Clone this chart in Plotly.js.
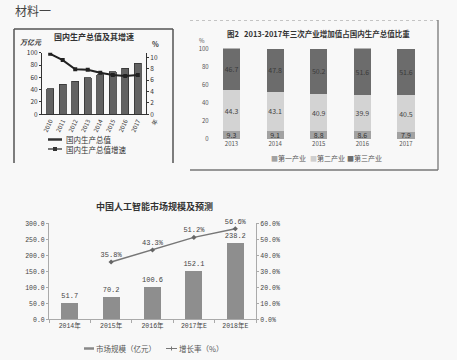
<!DOCTYPE html>
<html>
<head>
<meta charset="utf-8">
<script src="https://cdn.plot.ly/plotly-3.0.1.min.js"></script>
<style>html,body{margin:0;padding:0;background:#f8f8f8;}#chart{width:457px;height:360px;}</style>
</head>
<body>
<div id="chart"></div>
<script>
// ---- data ----
const gdpYears = ['2010','2011','2012','2013','2014','2015','2016','2017'];
const gdpValues = [41.3, 48.9, 54.0, 59.5, 64.4, 68.9, 74.4, 82.7];
const gdpGrowth = [10.6, 9.5, 7.9, 7.8, 7.3, 6.9, 6.7, 6.9];

const industryYears = ['2013','2014','2015','2016','2017'];
const primaryShare = [9.3, 9.1, 8.8, 8.6, 7.9];
const secondaryShare = [44.3, 43.1, 40.9, 39.9, 40.5];
const tertiaryShare = [46.7, 47.8, 50.2, 51.6, 51.6];

const aiYears = ['2014年','2015年','2016年','2017年E','2018年E'];
const aiMarket = [51.7, 70.2, 100.6, 152.1, 238.2];
const aiGrowth = [null, 35.8, 43.3, 51.2, 56.6];

// ---- helpers (pixel -> paper) ----
const W = 457, H = 360;
const px = x => x / W;
const py = y => 1 - y / H;
const CJK = '"Noto Sans CJK SC", "Noto Sans", sans-serif';
const MONO = '"Liberation Mono", "Noto Sans CJK SC", monospace';

const inBar = {textposition:'inside', insidetextanchor:'middle', constraintext:'none', textangle:0};

const traces = [
  // chart 1
  {type:'bar', x:gdpYears, y:gdpValues, xaxis:'x', yaxis:'y', width:0.54,
   marker:{color:'#626262', line:{color:'#333', width:0.8}}, showlegend:false, hoverinfo:'none'},
  {type:'scatter', mode:'lines+markers', x:gdpYears, y:gdpGrowth, xaxis:'x', yaxis:'y2',
   line:{color:'#222', width:2}, marker:{symbol:'square', size:4, color:'#222'}, showlegend:false, hoverinfo:'none'},
  // chart 2
  Object.assign({type:'bar', x:industryYears, y:primaryShare, xaxis:'x2', yaxis:'y3', width:0.39,
   marker:{color:'#a2a2a2'}, text:primaryShare.map(v=>v.toFixed(1)),
   textfont:{size:7, color:'#333', family:CJK}, showlegend:false, hoverinfo:'none'}, inBar),
  Object.assign({type:'bar', x:industryYears, y:secondaryShare, xaxis:'x2', yaxis:'y3', width:0.39,
   marker:{color:'#d3d3d3'}, text:secondaryShare.map(v=>v.toFixed(1)),
   textfont:{size:7, color:'#444', family:CJK}, showlegend:false, hoverinfo:'none'}, inBar),
  Object.assign({type:'bar', x:industryYears, y:tertiaryShare, xaxis:'x2', yaxis:'y3', width:0.39,
   marker:{color:'#6c6c6c'}, text:tertiaryShare.map(v=>v.toFixed(1)),
   textfont:{size:7, color:'#3a3a3a', family:CJK}, showlegend:false, hoverinfo:'none'}, inBar),
  // chart 3
  {type:'bar', x:aiYears, y:aiMarket, xaxis:'x3', yaxis:'y4', width:0.41,
   marker:{color:'#8e8e8e'}, texttemplate:'%{y:.1f}', textposition:'outside', cliponaxis:false, textangle:0,
   constraintext:'none', textfont:{size:7, color:'#444', family:MONO}, showlegend:false, hoverinfo:'none'},
  {type:'scatter', mode:'lines+markers+text', x:aiYears, y:aiGrowth, xaxis:'x3', yaxis:'y5',
   line:{color:'#777', width:1.5}, marker:{symbol:'diamond', size:4, color:'#666'},
   texttemplate:'%{y:.1f}%', textposition:'top center', cliponaxis:false,
   textfont:{size:7, color:'#444', family:MONO}, showlegend:false, hoverinfo:'none', connectgaps:false}
];

const axCommon = {showgrid:false, zeroline:false, fixedrange:true};

const layout = {
  width: W, height: H,
  margin:{l:0, r:0, t:0, b:0},
  paper_bgcolor:'#f8f8f8', plot_bgcolor:'rgba(0,0,0,0)',
  barmode:'stack',
  showlegend:false,
  font:{family:CJK, color:'#333'},
  // chart 1
  xaxis: Object.assign({}, axCommon, {domain:[px(42), px(146)], anchor:'y', showline:true, linecolor:'#333', linewidth:1,
         ticks:'', tickmode:'array', tickvals:gdpYears, ticktext:gdpYears, tickangle:-65, tickfont:{size:6, color:'#333'}}),
  yaxis: Object.assign({}, axCommon, {domain:[py(114.3), py(52.7)], anchor:'x', range:[0,100], dtick:20,
         showline:true, linecolor:'#333', linewidth:1, ticks:'outside', ticklen:2, tickcolor:'#333',
         tickfont:{size:6.5, color:'#333'}}),
  yaxis2: Object.assign({}, axCommon, {overlaying:'y', side:'right', anchor:'x', range:[0,10.8], dtick:2,
         showline:true, linecolor:'#333', linewidth:1, ticks:'outside', ticklen:2, tickcolor:'#333',
         tickfont:{size:6.5, color:'#333'}}),
  // chart 2
  xaxis2: Object.assign({}, axCommon, {domain:[px(209.7), px(427.8)], anchor:'y3', showline:false, ticks:'',
         tickmode:'array', tickvals:industryYears, ticktext:industryYears, tickangle:0, tickfont:{size:6, color:'#555'}}),
  yaxis3: Object.assign({}, axCommon, {domain:[py(139), py(48.5)], anchor:'x2', range:[0,100], dtick:20,
         showline:false, ticks:'', tickfont:{size:6, color:'#555'}}),
  // chart 3
  xaxis3: Object.assign({}, axCommon, {domain:[px(49), px(256)], anchor:'y4', showline:true, linecolor:'#aaa', linewidth:1,
         ticks:'outside', tickson:'boundaries', ticklen:3, tickcolor:'#aaa', tickangle:0,
         tickmode:'array', tickvals:aiYears, ticktext:aiYears, tickfont:{size:6.5, color:'#444', family:MONO}}),
  yaxis4: Object.assign({}, axCommon, {domain:[py(319.3), py(223.3)], anchor:'x3', range:[0,300], dtick:50, tickformat:'.1f',
         showline:true, linecolor:'#aaa', linewidth:1, ticks:'outside', ticklen:2, tickcolor:'#aaa',
         tickfont:{size:6.5, color:'#444', family:MONO}}),
  yaxis5: Object.assign({}, axCommon, {overlaying:'y4', side:'right', anchor:'x3', range:[0,60], dtick:10,
         tickformat:'.1f', ticksuffix:'%', showline:true, linecolor:'#aaa', linewidth:1, ticks:'outside', ticklen:2, tickcolor:'#aaa',
         tickfont:{size:6.5, color:'#444', family:MONO}}),
  shapes: [
    // chart 1 frame
    {type:'line', xref:'paper', yref:'paper', x0:px(14), x1:px(14), y0:py(29), y1:py(163), line:{color:'#555', width:1.5}},
    {type:'line', xref:'paper', yref:'paper', x0:px(14), x1:px(173), y0:py(29), y1:py(29), line:{color:'#555', width:1.5}},
    {type:'line', xref:'paper', yref:'paper', x0:px(173), x1:px(173), y0:py(29), y1:py(163), line:{color:'#555', width:1.5}},
    // chart 2 frame
    {type:'line', xref:'paper', yref:'paper', x0:px(190), x1:px(438), y0:py(20.5), y1:py(20.5), line:{color:'#c4c4c4', width:1, dash:'dot'}},
    {type:'line', xref:'paper', yref:'paper', x0:px(438), x1:px(438), y0:py(20), y1:py(170), line:{color:'#777', width:1.3}},
    {type:'line', xref:'paper', yref:'paper', x0:px(190), x1:px(438), y0:py(170), y1:py(170), line:{color:'#777', width:1.3}},
    // chart 1 legend symbols
    {type:'line', xref:'paper', yref:'paper', x0:px(48), x1:px(62), y0:py(139.5), y1:py(139.5), line:{color:'#333', width:2.5}},
    {type:'line', xref:'paper', yref:'paper', x0:px(48), x1:px(62), y0:py(149), y1:py(149), line:{color:'#333', width:1.3}},
    {type:'rect', xref:'paper', yref:'paper', x0:px(53), x1:px(57), y0:py(151), y1:py(147), fillcolor:'#333', line:{width:0}},
    // chart 3 legend symbols
    {type:'line', xref:'paper', yref:'paper', x0:px(84), x1:px(94), y0:py(348.5), y1:py(348.5), line:{color:'#888', width:2.5}},
    {type:'line', xref:'paper', yref:'paper', x0:px(166), x1:px(177), y0:py(348.5), y1:py(348.5), line:{color:'#777', width:1}},
    {type:'line', xref:'paper', yref:'paper', x0:px(171.5), x1:px(171.5), y0:py(346.5), y1:py(350.5), line:{color:'#777', width:1}}
  ],
  annotations: [
    {text:'材料一', xref:'paper', yref:'paper', x:px(13), y:py(10), xanchor:'left', yanchor:'middle', showarrow:false,
     font:{size:12, color:'#444', family:CJK}},
    // chart 1
    {text:'<b>国内生产总值及其增速</b>', xref:'paper', yref:'paper', x:px(94), y:py(37), xanchor:'center', yanchor:'middle', showarrow:false,
     font:{size:8, color:'#333'}},
    {text:'<b><i>万亿元</i></b>', xref:'paper', yref:'paper', x:px(31), y:py(42), xanchor:'center', yanchor:'middle', showarrow:false,
     font:{size:7, color:'#333'}},
    {text:'<b>%</b>', xref:'paper', yref:'paper', x:px(155), y:py(43.5), xanchor:'center', yanchor:'middle', showarrow:false,
     font:{size:7, color:'#333'}},
    {text:'年', xref:'paper', yref:'paper', x:px(154), y:py(122), xanchor:'center', yanchor:'middle', showarrow:false, textangle:-65,
     font:{size:6, color:'#333'}},
    {text:'国内生产总值', xref:'paper', yref:'paper', x:px(63.5), y:py(139.5), xanchor:'left', yanchor:'middle', showarrow:false,
     font:{size:7.5, color:'#333'}},
    {text:'国内生产总值增速', xref:'paper', yref:'paper', x:px(63.5), y:py(149), xanchor:'left', yanchor:'middle', showarrow:false,
     font:{size:7.5, color:'#333'}},
    // chart 2
    {text:'<b>图2   2013-2017年三次产业增加值占国内生产总值比重</b>', xref:'paper', yref:'paper', x:px(318), y:py(33), xanchor:'center', yanchor:'middle', showarrow:false,
     font:{size:7.5, color:'#333'}},
    {text:'%', xref:'paper', yref:'paper', x:px(202), y:py(40), xanchor:'center', yanchor:'middle', showarrow:false,
     font:{size:6, color:'#555'}},
    {text:'<span style="color:#a2a2a2">■</span>第一产业', xref:'paper', yref:'paper', x:px(269), y:py(158.3), xanchor:'left', yanchor:'middle', showarrow:false,
     font:{size:7, color:'#555'}},
    {text:'<span style="color:#cfcfcf">■</span>第二产业', xref:'paper', yref:'paper', x:px(308), y:py(158.3), xanchor:'left', yanchor:'middle', showarrow:false,
     font:{size:7, color:'#555'}},
    {text:'<span style="color:#6c6c6c">■</span>第三产业', xref:'paper', yref:'paper', x:px(344.5), y:py(158.3), xanchor:'left', yanchor:'middle', showarrow:false,
     font:{size:7, color:'#555'}},
    // chart 3
    {text:'<b>中国人工智能市场规模及预测</b>', xref:'paper', yref:'paper', x:px(154.5), y:py(207), xanchor:'center', yanchor:'middle', showarrow:false,
     font:{size:9, color:'#333'}},
    {text:'市场规模（亿元）', xref:'paper', yref:'paper', x:px(94), y:py(348.5), xanchor:'left', yanchor:'middle', showarrow:false,
     font:{size:7.5, color:'#555'}},
    {text:'增长率（%）', xref:'paper', yref:'paper', x:px(176.5), y:py(348.5), xanchor:'left', yanchor:'middle', showarrow:false,
     font:{size:7.5, color:'#555'}}
  ]
};

Plotly.newPlot('chart', traces, layout, {staticPlot:true, displayModeBar:false});
</script>
</body>
</html>
